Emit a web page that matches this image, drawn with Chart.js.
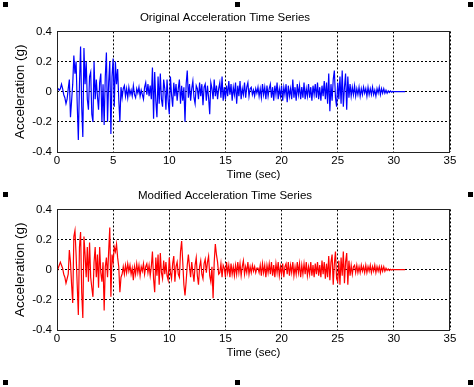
<!DOCTYPE html>
<html>
<head>
<meta charset="utf-8">
<script src="https://cdn.jsdelivr.net/npm/chart.js@4/dist/chart.umd.min.js"></script>
<style>
  body { margin:0; background:#fff; width:474px; height:387px; position:relative; overflow:hidden; }
  .box { position:absolute; left:0; width:474px; height:186px; }
  .handle { position:absolute; width:5px; height:5px; background:#000; }
</style>
</head>
<body>
<div class="box" style="top:0"><canvas id="c1"></canvas></div>
<div class="box" style="top:178px"><canvas id="c2"></canvas></div>

<div class="handle" style="left:3px;top:2px"></div>
<div class="handle" style="left:235px;top:2px"></div>
<div class="handle" style="left:468px;top:2px"></div>
<div class="handle" style="left:3px;top:192px"></div>
<div class="handle" style="left:468px;top:192px"></div>
<div class="handle" style="left:3px;top:380px"></div>
<div class="handle" style="left:235px;top:380px"></div>
<div class="handle" style="left:468px;top:380px"></div>

<script>
// sample step of the records (sec)
var dt = 0.1

// original record, one row per second
var accOriginal = [
  0.01, 0.02, 0.01, 0.02, 0.05, 0.02, -0.02, -0.04, -0.08, -0.05,
  0.02, 0.08, -0.17, -0.06, 0.05, 0.24, 0.12, 0.20, -0.08, -0.32,
  0.05, 0.30, -0.10, -0.30, 0.29, 0.05, 0.20, -0.05, -0.12, 0.10,
  0.13, -0.15, -0.20, 0.20, -0.05, 0.08, -0.03, -0.12, 0.06, 0.12,
  -0.20, 0.05, -0.22, 0.10, 0.26, -0.20, 0.06, 0.20, -0.28, 0.10,
  0.22, -0.10, 0.20, 0.05, 0.15, -0.05, -0.20, 0.03, -0.04, 0.02,
  0.04, -0.03, 0.02, -0.04, 0.03, -0.02, 0.01, -0.03, 0.04, -0.02,
  -0.04, 0.02, -0.01, 0.03, -0.03, 0.01, -0.02, -0.05, 0.03, 0.06,
  -0.02, 0.05, -0.03, 0.04, -0.05, 0.16, -0.18, 0.13, -0.06, -0.17,
  0.10, -0.08, 0.12, -0.05, -0.10, 0.08, 0.02, -0.12, 0.08, -0.06,
  -0.15, 0.10, -0.02, -0.10, 0.06, -0.03, 0.05, -0.06, 0.02, 0.08,
  -0.08, 0.04, -0.06, 0.03, -0.20, 0.05, 0.14, -0.04, 0.05, -0.06,
  0.02, 0.07, -0.04, -0.08, 0.04, 0.02, -0.05, 0.06, -0.03, 0.05,
  -0.09, 0.03, 0.05, -0.06, 0.04, -0.04, -0.15, 0.06, 0.02, -0.05,
  0.08, -0.03, 0.04, -0.05, 0.02, 0.06, -0.04, 0.10, -0.06, 0.03,
  -0.05, 0.04, -0.03, 0.07, -0.02, 0.05, -0.06, 0.03, -0.02, 0.06,
  -0.08, 0.04, -0.03, 0.07, -0.05, 0.02, -0.02, 0.06, -0.04, 0.03,
  0.06, -0.03, 0.02, 0.03, -0.02, 0.01, -0.03, 0.02, -0.01, 0.03,
  -0.03, 0.02, -0.04, 0.05, -0.02, 0.03, -0.05, 0.04, -0.03, 0.02,
  0.05, -0.04, 0.03, -0.06, 0.04, -0.02, 0.06, -0.05, 0.02, -0.03,
  0.04, -0.06, 0.03, -0.02, 0.05, -0.07, 0.04, -0.03, 0.02, -0.05,
  0.08, -0.04, 0.03, -0.06, 0.05, -0.02, 0.04, -0.05, 0.03, -0.04,
  0.06, -0.05, 0.02, -0.03, 0.05, -0.04, 0.03, -0.06, 0.04, -0.02,
  0.05, -0.04, 0.06, -0.05, 0.03, -0.06, 0.04, -0.03, 0.07, -0.05,
  0.06, -0.08, 0.12, -0.13, 0.05, -0.06, 0.08, 0.14, -0.04, -0.10,
  0.06, -0.05, 0.10, -0.08, 0.14, -0.10, 0.03, 0.12, -0.12, 0.10,
  -0.04, 0.05, -0.03, 0.03, -0.02, 0.04, -0.03, 0.02, -0.02, 0.03,
  -0.03, 0.02, -0.02, 0.03, -0.01, 0.02, -0.03, 0.03, -0.02, 0.02,
  -0.02, 0.03, -0.02, 0.01, -0.03, 0.02, -0.01, 0.03, -0.02, 0.02,
  -0.01, 0.02, -0.01, 0.01, -0.01, 0.005, -0.005, 0.005, -0.003, 0.002,
  0, 0, 0, 0, 0, 0, 0, 0, 0, 0, 0
]

// modified (matched) record
var accModified = [
  -0.02, 0.01, 0.03, 0.05, 0.03, 0.01, -0.03, -0.05, -0.09, -0.06,
  -0.03, 0.13, 0.05, -0.10, -0.22, 0.22, 0.26, 0.10, -0.10, -0.30,
  0.15, 0.25, -0.15, -0.32, 0.22, 0.10, -0.05, 0.15, -0.08, 0.18,
  -0.05, -0.12, -0.18, 0.05, 0.15, -0.05, 0.10, -0.12, 0.15, -0.02,
  -0.08, 0.05, -0.27, 0.02, 0.08, -0.05, 0.12, 0.28, -0.18, 0.10,
  0.05, 0.15, 0.12, 0.17, 0.08, 0.02, -0.15, -0.05, -0.03, 0.02,
  -0.03, 0.03, -0.02, 0.04, -0.01, 0.03, -0.03, 0.01, -0.07, 0.02,
  -0.03, 0.04, -0.02, 0.03, -0.04, 0.02, -0.01, 0.04, -0.03, 0.02,
  0.04, -0.02, 0.03, -0.04, 0.02, 0.12, -0.06, -0.15, 0.08, -0.04,
  0.10, -0.10, 0.11, -0.02, -0.06, 0.06, -0.03, 0.05, -0.04, -0.07,
  0.08, -0.02, -0.06, 0.04, 0.09, -0.08, 0.02, 0.05, -0.03, -0.05,
  0.12, 0.19, 0.05, -0.10, -0.17, -0.08, 0.03, 0.10, 0.02, -0.05,
  0.05, -0.02, -0.08, 0.03, 0.08, -0.04, -0.10, 0.02, 0.06, -0.03,
  -0.06, 0.04, 0.07, -0.02, 0.05, 0.09, -0.04, -0.08, 0.02, -0.19,
  0.05, 0.17, 0.10, 0.05, -0.03, -0.02, 0.04, -0.05, 0.03, 0.01,
  -0.05, 0.05, -0.02, 0.03, -0.05, 0.04, -0.03, 0.02, -0.04, 0.03,
  -0.03, 0.05, -0.02, 0.04, -0.04, 0.02, 0.06, -0.03, 0.02, -0.02,
  0.05, -0.03, 0.02, -0.02, 0.03, -0.01, 0.02, -0.02, 0.01, 0.01,
  -0.02, 0.03, -0.04, 0.04, -0.02, 0.03, -0.05, 0.03, -0.02, 0.04,
  -0.03, 0.05, -0.04, 0.03, -0.05, 0.04, -0.02, 0.05, -0.04, 0.02,
  -0.03, 0.04, -0.05, 0.02, 0.04, -0.03, 0.05, -0.04, 0.03, -0.02,
  0.05, -0.04, 0.02, -0.03, 0.05, -0.02, 0.04, -0.05, 0.03, -0.03,
  0.04, -0.03, 0.05, -0.04, 0.02, -0.03, 0.05, -0.04, 0.03, -0.05,
  0.04, -0.03, 0.05, -0.04, 0.03, -0.05, 0.06, -0.03, 0.05, -0.06,
  0.04, -0.05, 0.09, -0.07, 0.05, 0.10, -0.10, 0.04, 0.12, -0.06,
  -0.08, 0.06, -0.10, 0.08, -0.04, 0.12, -0.09, 0.05, 0.11, -0.10,
  0.06, -0.04, 0.03, -0.03, 0.02, 0.03, -0.02, 0.03, -0.02, 0.02,
  -0.02, 0.03, -0.01, 0.02, -0.02, 0.03, -0.02, 0.02, -0.01, 0.03,
  -0.02, 0.02, -0.01, 0.03, -0.02, 0.02, -0.01, 0.02, -0.02, 0.02,
  -0.01, 0.02, -0.01, 0.01, -0.005, 0.005, -0.005, 0.003, -0.002, 0.002,
  0, 0, 0, 0, 0, 0, 0, 0, 0, 0, 0
]

var xTicks = [0, 5, 10, 15, 20, 25, 30, 35]
var yTicks = [-0.4, -0.2, 0, 0.2, 0.4]

var fontFam = '"Liberation Sans", Arial, sans-serif'

// box around the axes, like matlab
const framePlugin = {
  id: 'frame',
  afterDraw: (chart) => {
    const {ctx, chartArea} = chart
    ctx.save()
    ctx.strokeStyle = '#222'
    ctx.lineWidth = 1
    ctx.strokeRect(Math.round(chartArea.left) + 0.5, Math.round(chartArea.top) + 0.5,
      Math.round(chartArea.right - chartArea.left) - 1, Math.round(chartArea.bottom - chartArea.top))
    ctx.restore()
  }
}

function toPoints(values){
  var pts = []
  for (var i = 0; i < values.length; i++) {
    pts.push({x: +(i * dt).toFixed(2), y: values[i]})
  }
  return pts
}

function makeChart(canvasId, title, values, color){
  return new Chart(document.getElementById(canvasId), {
    type: 'line',
    data: {
      datasets: [{
        data: toPoints(values),
        borderColor: color,
        borderWidth: 1.2,
        pointRadius: 0,
        tension: 0,
        fill: false
      }]
    },
    options: {
      responsive: true,
      maintainAspectRatio: false,
      animation: false,
      layout: { padding: { top: 0, right: 24, bottom: 0, left: 0 } },
      plugins: {
        legend: { display: false },
        tooltip: { enabled: false },
        title: {
          display: true,
          text: title,
          color: '#000',
          font: { family: fontFam, size: 11.5, weight: 'normal' },
          padding: { top: 11, bottom: 6.6 }
        }
      },
      scales: {
        x: {
          type: 'linear',
          min: 0, max: 35,
          afterBuildTicks: (s) => { s.ticks = xTicks.map(v => ({value: v})) },
          afterFit: (s) => { s.height = 34 },
          grid: { color: '#000', lineWidth: 1, drawTicks: false },
          border: { display: false, dash: [2, 2] },
          ticks: { color: '#000', padding: 2, maxRotation: 0, font: { family: fontFam, size: 11.5 } },
          title: { display: true, text: 'Time (sec)', color: '#000',
                   font: { family: fontFam, size: 11.5 }, padding: { top: 0, bottom: 4 } }
        },
        y: {
          min: -0.4, max: 0.4,
          afterBuildTicks: (s) => { s.ticks = yTicks.map(v => ({value: v})) },
          afterFit: (s) => { s.width = 57 },
          grid: { color: '#000', lineWidth: 1, drawTicks: false },
          border: { display: false, dash: [2, 2] },
          ticks: { color: '#000', padding: 5, font: { family: fontFam, size: 11.5 } },
          title: { display: true, text: 'Acceleration (g)', color: '#000',
                   font: { family: fontFam, size: 13.5 }, padding: { top: 12, bottom: 0 } }
        }
      }
    },
    plugins: [framePlugin]
  })
}

makeChart('c1', 'Original Acceleration Time Series', accOriginal, '#0000ff')
makeChart('c2', 'Modified Acceleration Time Series', accModified, '#ff0000')
</script>
</body>
</html>
